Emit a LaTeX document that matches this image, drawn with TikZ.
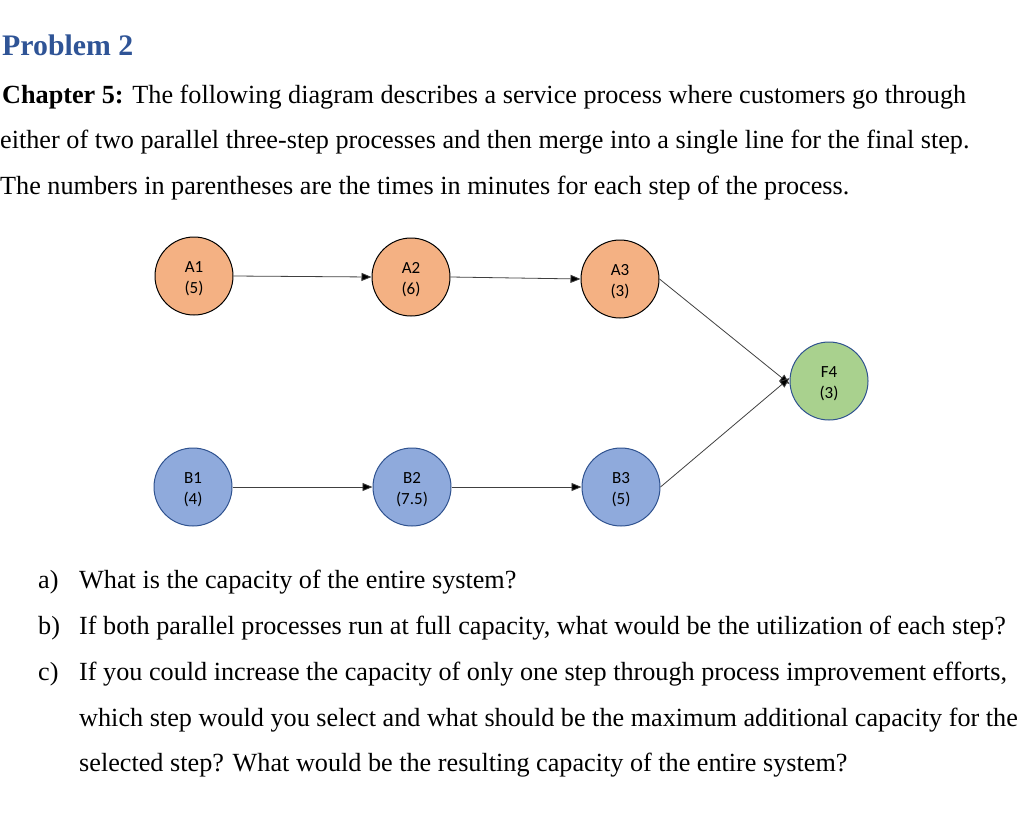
\documentclass[tikz,border=0pt]{standalone}
\usepackage{fontspec}
\setmainfont{Liberation Serif}
\newfontfamily\nodefont{Carlito}
\usetikzlibrary{arrows.meta}
\definecolor{titleblue}{HTML}{2F5496}
\definecolor{orangefill}{HTML}{F4B183}
\definecolor{bluefill}{HTML}{8FAADC}
\definecolor{greenfill}{HTML}{A9D18E}
\definecolor{blueborder}{HTML}{2F528F}
\newcommand{\lowerstrut}{\rule{0pt}{17pt}}
\begin{document}
\begin{tikzpicture}[x=1pt,y=-1pt,
  txt/.style={anchor=base west,inner sep=0pt,font=\fontsize{26.2}{30}\selectfont},
  stepnode/.style={circle,minimum size=78pt,inner sep=0pt,line width=1pt,align=center,
    font=\nodefont\fontsize{17}{21}\selectfont},
  anode/.style={stepnode,draw=black,fill=orangefill},
  bnode/.style={stepnode,draw=blueborder,fill=bluefill},
  fnode/.style={stepnode,draw=blueborder,fill=greenfill},
  conn/.style={draw=black!75,line width=0.8pt,-{Triangle[length=10pt,width=8pt,fill=black]}}
]
\useasboundingbox (0,0) rectangle (1024,814);
% text
\node[txt,font=\bfseries\fontsize{29.8}{33}\selectfont,text=titleblue] (title) at (2,55) {Problem 2};
\node[txt] (l1) at (2,103) {\textbf{Chapter 5:} The following diagram describes a service process where customers go through};
\node[txt] (l2) at (0,148) {either of two parallel three-step processes and then merge into a single line for the final step.};
\node[txt] (l3) at (0,194) {The numbers in parentheses are the times in minutes for each step of the process.};
\node[txt] (qa) at (38,588) {a)};
\node[txt] (qat) at (79,588) {What is the capacity of the entire system?};
\node[txt] (qb) at (38,634) {b)};
\node[txt] (qbt) at (79,634) {If both parallel processes run at full capacity, what would be the utilization of each step?};
\node[txt] (qc) at (38,680) {c)};
\node[txt] (qct) at (79,680) {If you could increase the capacity of only one step through process improvement efforts,};
\node[txt] (qct2) at (79,726) {which step would you select and what should be the maximum additional capacity for the};
\node[txt] (qct3) at (79,771) {selected step? What would be the resulting capacity of the entire system?};
% nodes
\node[anode] (A1) at (194,276) {\lowerstrut A1\\(5)};
\node[anode] (A2) at (411,277) {\lowerstrut A2\\(6)};
\node[anode] (A3) at (620,279) {\lowerstrut A3\\(3)};
\node[fnode] (F4) at (829,381) {\lowerstrut F4\\(3)};
\node[bnode] (B1) at (193,487) {\lowerstrut B1\\(4)};
\node[bnode] (B2) at (412,487) {\lowerstrut B2\\(7.5)};
\node[bnode] (B3) at (621,487) {\lowerstrut B3\\(5)};
% connectors
\draw[conn] (A1.east) -- (A2.west);
\draw[conn] (A2.east) -- (A3.west);
\draw[conn] (A3.east) -- ([yshift=-3pt]F4.west);
\draw[conn] (B1.east) -- (B2.west);
\draw[conn] (B2.east) -- (B3.west);
\draw[conn] (B3.east) -- ([yshift=3pt]F4.west);
\end{tikzpicture}
\end{document}
